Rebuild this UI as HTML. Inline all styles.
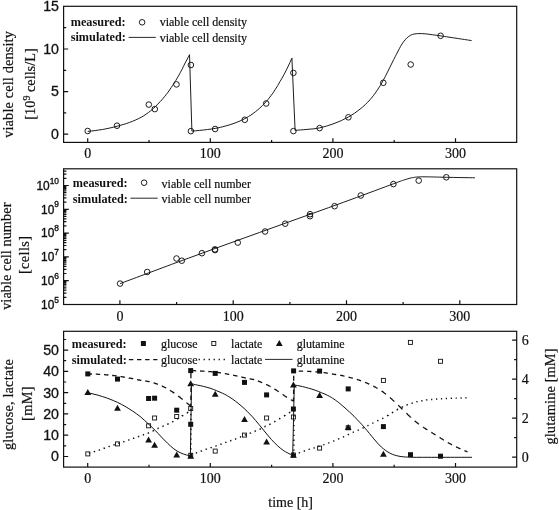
<!DOCTYPE html>
<html><head><meta charset="utf-8"><title>Cell culture: measured vs simulated</title>
<style>html,body{margin:0;padding:0;background:#fff}svg{display:block}</style></head>
<body>
<svg width="559" height="510" viewBox="0 0 559 510">
<rect width="559" height="510" fill="#fff"/>
<g fill="none" stroke="#111" stroke-width="1.1">
<rect x="63.6" y="6.3" width="453.1" height="136.1" stroke-width="1.2"/>
<rect x="63.6" y="168.8" width="453.1" height="135.7" stroke-width="1.2"/>
<rect x="63.6" y="331.3" width="453.1" height="135.8" stroke-width="1.2"/>
<path d="M87.7,142.4v-4.2M210.3,142.4v-4.2M332.9,142.4v-4.2M455.5,142.4v-4.2M149.0,142.4v-2.4M271.6,142.4v-2.4M394.2,142.4v-2.4M119.9,304.5v-4.2M233.2,304.5v-4.2M346.5,304.5v-4.2M459.8,304.5v-4.2M176.6,304.5v-2.4M289.9,304.5v-2.4M403.1,304.5v-2.4M87.7,467.1v-4.2M210.3,467.1v-4.2M332.9,467.1v-4.2M455.5,467.1v-4.2M149.0,467.1v-2.4M271.6,467.1v-2.4M394.2,467.1v-2.4M63.6,134.2h4.6M63.6,91.6h4.6M63.6,49.0h4.6M63.6,112.9h2.6M63.6,70.3h2.6M63.6,27.7h2.6M63.6,297.3h2.8M63.6,293.1h2.8M63.6,290.2h2.8M63.6,287.9h2.8M63.6,286.0h2.8M63.6,284.4h2.8M63.6,283.0h2.8M63.6,281.8h2.8M63.6,280.7h5.2M63.6,273.5h2.8M63.6,269.3h2.8M63.6,266.4h2.8M63.6,264.1h2.8M63.6,262.2h2.8M63.6,260.6h2.8M63.6,259.2h2.8M63.6,258.0h2.8M63.6,256.9h5.2M63.6,249.7h2.8M63.6,245.5h2.8M63.6,242.6h2.8M63.6,240.3h2.8M63.6,238.4h2.8M63.6,236.8h2.8M63.6,235.4h2.8M63.6,234.2h2.8M63.6,233.1h5.2M63.6,225.9h2.8M63.6,221.7h2.8M63.6,218.8h2.8M63.6,216.5h2.8M63.6,214.6h2.8M63.6,213.0h2.8M63.6,211.6h2.8M63.6,210.4h2.8M63.6,209.3h5.2M63.6,202.1h2.8M63.6,197.9h2.8M63.6,195.0h2.8M63.6,192.7h2.8M63.6,190.8h2.8M63.6,189.2h2.8M63.6,187.8h2.8M63.6,186.6h2.8M63.6,185.5h5.2M63.6,178.3h2.8M63.6,174.1h2.8M63.6,171.2h2.8M63.6,456.5h4.6M63.6,435.2h4.6M63.6,413.9h4.6M63.6,392.7h4.6M63.6,371.4h4.6M63.6,350.1h4.6M63.6,445.9h2.6M63.6,424.6h2.6M63.6,403.3h2.6M63.6,382.0h2.6M63.6,360.7h2.6M63.6,339.5h2.6M516.7,457.2h-4.6M516.7,418.2h-4.6M516.7,379.2h-4.6M516.7,340.2h-4.6M516.7,437.7h-2.6M516.7,398.7h-2.6M516.7,359.7h-2.6" stroke-width="1.2"/>
<path d="M87.7,131.4 L91.4,131.0 L95.1,130.6 L98.8,130.0 L102.5,129.5 L106.1,128.8 L109.8,128.0 L113.5,127.2 L117.2,126.2 L120.2,125.4 L123.2,124.5 L126.3,123.6 L129.3,122.5 L132.3,121.4 L135.3,120.1 L138.4,118.7 L141.4,117.2 L143.8,115.8 L146.1,114.2 L148.4,112.5 L150.8,110.7 L153.2,108.7 L155.5,106.5 L157.8,104.1 L160.2,101.6 L161.8,99.9 L163.3,98.1 L164.9,96.2 L166.4,94.3 L168.0,92.2 L169.6,90.0 L171.1,87.7 L172.7,85.3 L174.2,82.9 L175.8,80.5 L177.3,77.9 L178.9,75.2 L180.4,72.4 L182.0,69.4 L183.5,66.3 L185.1,63.0 L185.7,62.0 L186.2,61.0 L186.8,60.0 L187.3,59.0 L187.8,57.9 L188.4,56.9 L188.9,55.8 L189.5,54.7 L191.9,131.1 L195.8,130.8 L199.7,130.4 L203.6,130.0 L207.5,129.5 L211.4,129.0 L215.3,128.4 L220.2,127.4 L225.2,126.1 L230.1,124.7 L235.0,123.0 L240.0,121.0 L244.9,118.6 L248.4,116.6 L252.0,114.3 L255.6,111.6 L259.1,108.7 L262.6,105.4 L266.2,101.6 L268.5,98.9 L270.8,95.9 L273.1,92.8 L275.4,89.3 L277.7,85.6 L280.0,81.5 L282.0,78.2 L284.0,74.6 L285.9,70.9 L287.9,66.9 L289.9,62.6 L291.9,58.1 L295.1,130.4 C297.1,130.2 302.9,129.8 307.0,129.4 C311.1,129.0 315.0,128.9 319.5,127.9 C324.0,126.9 329.2,125.4 334.0,123.6 C338.8,121.8 344.0,119.5 348.3,117.1 C352.6,114.7 356.4,112.1 360.0,109.2 C363.6,106.3 367.2,102.9 370.0,99.8 C372.8,96.7 374.8,93.8 377.0,90.6 C379.2,87.4 381.4,83.7 383.1,80.6 C384.9,77.5 385.9,75.2 387.5,72.1 C389.1,69.0 390.8,65.3 392.5,62.0 C394.2,58.6 396.1,54.8 397.6,52.0 C399.1,49.2 400.1,47.1 401.3,45.1 C402.6,43.1 403.8,41.3 405.1,39.8 C406.4,38.3 407.6,37.2 408.9,36.3 C410.1,35.4 411.2,34.8 412.6,34.4 C414.1,34.0 415.5,33.7 417.6,33.6 C419.7,33.5 422.7,33.6 425.2,33.8 C427.7,34.0 430.2,34.5 432.7,34.8 C435.2,35.1 437.3,35.4 440.2,35.8 C443.1,36.2 444.8,36.5 450.0,37.3 C455.2,38.1 468.0,40.0 471.6,40.6" stroke-width="0.95" stroke-linejoin="miter"/>
<path d="M120.1,283.6 C129.2,280.2 156.7,269.9 175.0,263.1 C193.3,256.4 210.8,250.0 230.0,243.1 C249.2,236.2 270.0,228.7 290.0,221.5 C310.0,214.3 332.8,206.2 350.0,199.9 C367.2,193.6 384.2,187.2 393.4,183.8 C402.6,180.4 402.0,180.6 405.2,179.6 C408.4,178.6 409.8,178.1 412.7,177.6 C415.6,177.1 417.2,176.9 422.8,176.8 C428.4,176.8 437.6,177.1 446.3,177.3 C455.0,177.5 470.1,177.7 474.9,177.8" stroke-width="0.95"/>
<path d="M87.8,373.9 L88.1,373.9 L88.4,373.9 L88.8,373.9 L89.3,374.0 L89.7,374.0 L90.2,374.0 L90.8,374.0 L91.3,374.0 L91.9,374.0 L91.9,374.0M95.8,374.2 L96.3,374.2 L96.9,374.2 L97.5,374.2 L98.1,374.3 L98.7,374.3 L99.2,374.3 L99.7,374.3 L100.2,374.4M104.0,374.6 L104.1,374.6 L104.5,374.7 L104.8,374.7 L105.1,374.7 L105.4,374.8 L105.7,374.8 L106.0,374.8 L106.3,374.8 L106.7,374.9 L107.0,374.9 L107.3,374.9 L107.6,375.0 L107.9,375.0 L108.2,375.0 L108.4,375.1M112.2,375.4 L112.3,375.4 L112.6,375.5 L113.0,375.5 L113.3,375.5 L113.6,375.6 L114.0,375.6 L114.3,375.7 L114.6,375.7 L115.0,375.7 L115.3,375.8 L115.6,375.8 L116.0,375.9 L116.3,375.9 L116.7,376.0M120.5,376.5 L120.8,376.6 L121.1,376.6 L121.4,376.7 L121.8,376.7 L122.1,376.8 L122.5,376.8 L122.8,376.9 L123.2,377.0 L123.5,377.0 L123.8,377.1 L124.2,377.1 L124.5,377.2 L124.9,377.2 L124.9,377.2M128.8,377.9 L128.9,378.0 L129.2,378.0 L129.6,378.1 L129.9,378.2 L130.3,378.2 L130.6,378.3 L130.9,378.3 L131.3,378.4 L131.6,378.5 L131.9,378.5 L132.3,378.6 L132.6,378.7 L133.0,378.7 L133.2,378.8M137.0,379.6 L137.0,379.6 L137.4,379.7 L137.7,379.7 L138.1,379.8 L138.4,379.9 L138.7,380.0 L139.1,380.0 L139.4,380.1 L139.8,380.2 L140.1,380.2 L140.5,380.3 L140.8,380.4 L141.2,380.4 L141.4,380.5M145.2,381.0 L145.4,381.0 L145.8,381.1 L146.1,381.1 L146.5,381.2 L146.8,381.2 L147.2,381.3 L147.5,381.3 L147.9,381.4 L148.2,381.4 L148.6,381.5 L148.9,381.6 L149.3,381.6 L149.7,381.7M153.5,382.8 L153.8,382.9 L154.1,383.0 L154.5,383.1 L154.8,383.2 L155.1,383.4 L155.5,383.5 L155.8,383.6 L156.2,383.7 L156.5,383.8 L156.8,384.0 L157.2,384.1 L157.5,384.2 L157.9,384.4 L157.9,384.4M161.8,386.0 L162.0,386.0 L162.3,386.2 L162.6,386.4 L163.0,386.5 L163.3,386.7 L163.7,386.8 L164.0,387.0 L164.4,387.2 L164.7,387.3 L165.0,387.5 L165.4,387.7 L165.7,387.8 L166.1,388.0 L166.2,388.1M170.0,390.3 L170.1,390.4 L170.4,390.6 L170.8,390.8 L171.1,391.0 L171.5,391.2 L171.8,391.5 L172.1,391.7 L172.5,391.9 L172.8,392.1 L173.1,392.4 L173.5,392.6 L173.8,392.8 L174.2,393.1 L174.4,393.2M178.2,396.0 L178.3,396.1 L178.7,396.4 L179.0,396.6 L179.4,396.9 L179.7,397.2 L180.1,397.4 L180.4,397.7 L180.7,398.0 L181.1,398.2 L181.4,398.5 L181.7,398.7 L182.1,399.0 L182.4,399.3 L182.7,399.5M186.5,402.6 L186.6,402.7 L186.9,402.9 L187.2,403.2 L187.5,403.4 L187.8,403.7 L188.1,403.9 L188.3,404.1 L188.6,404.3 L188.8,404.5 L189.0,404.7 L189.2,404.9 L189.4,405.1 L189.6,405.2 L189.7,405.3 L189.9,405.4 L190.0,405.5 L190.1,405.6 L190.2,405.7 L190.2,405.8 L190.3,405.8 L190.3,406.0 L190.3,406.0 L190.3,406.0 L190.3,406.0 L190.3,405.8M191.8,370.6 L192.1,370.6 L192.4,370.7 L192.7,370.7 L193.1,370.7 L193.4,370.7 L193.8,370.7 L194.2,370.7 L194.6,370.7 L195.1,370.8 L195.5,370.8 L195.9,370.8 L196.2,370.8M200.1,371.0 L200.6,371.0 L201.1,371.1 L201.6,371.1 L202.1,371.1 L202.7,371.1 L203.2,371.2 L203.8,371.2 L204.3,371.3 L204.5,371.3M208.3,371.5 L208.4,371.5 L209.0,371.6 L209.6,371.6 L210.1,371.6 L210.7,371.7 L211.2,371.7 L211.7,371.8 L212.2,371.8 L212.7,371.9 L212.8,371.9M216.6,372.3 L216.8,372.3 L217.2,372.4 L217.6,372.4 L217.9,372.5 L218.3,372.5 L218.6,372.6 L218.9,372.6 L219.3,372.7 L219.6,372.7 L219.9,372.8 L220.3,372.8 L220.6,372.9 L221.0,372.9 L221.0,372.9M224.8,373.6 L225.1,373.6 L225.5,373.7 L225.8,373.8 L226.1,373.8 L226.5,373.9 L226.8,373.9 L227.2,374.0 L227.5,374.1 L227.8,374.1 L228.2,374.2 L228.5,374.3 L228.8,374.3 L229.2,374.4 L229.2,374.4M233.1,375.2 L233.2,375.2 L233.6,375.3 L233.9,375.4 L234.2,375.4 L234.6,375.5 L234.9,375.6 L235.3,375.6 L235.6,375.7 L235.9,375.8 L236.3,375.9 L236.6,375.9 L236.9,376.0 L237.3,376.1 L237.5,376.1M241.3,377.0 L241.4,377.0 L241.7,377.1 L242.1,377.2 L242.4,377.3 L242.7,377.3 L243.1,377.4 L243.4,377.5 L243.8,377.6 L244.1,377.7 L244.5,377.7 L244.8,377.8 L245.1,377.9 L245.5,378.0 L245.8,378.0M249.6,378.8 L249.9,378.8 L250.2,378.9 L250.5,378.9 L250.9,379.0 L251.2,379.1 L251.5,379.1 L251.9,379.2 L252.2,379.3 L252.5,379.3 L252.9,379.4 L253.2,379.5 L253.5,379.5 L253.9,379.6 L254.0,379.7M257.9,380.9 L257.9,380.9 L258.2,381.1 L258.6,381.2 L258.9,381.3 L259.2,381.4 L259.5,381.5 L259.8,381.7 L260.1,381.8 L260.4,381.9 L260.7,382.1 L261.0,382.2 L261.4,382.3 L261.7,382.5 L262.0,382.6 L262.2,382.7M266.1,384.4 L266.3,384.5 L266.7,384.7 L267.0,384.8 L267.4,385.0 L267.7,385.2 L268.1,385.3 L268.4,385.5 L268.7,385.7 L269.1,385.9 L269.4,386.0 L269.8,386.2 L270.1,386.4 L270.4,386.6 L270.5,386.6M274.4,388.9 L274.5,389.0 L274.9,389.2 L275.2,389.4 L275.6,389.6 L275.9,389.9 L276.3,390.1 L276.6,390.3 L276.9,390.5 L277.3,390.7 L277.6,391.0 L278.0,391.2 L278.3,391.4 L278.6,391.6 L278.8,391.7M282.6,394.4 L282.8,394.5 L283.1,394.7 L283.5,395.0 L283.8,395.2 L284.1,395.5 L284.5,395.7 L284.8,395.9 L285.1,396.2 L285.4,396.4 L285.8,396.6 L286.1,396.8 L286.4,397.0 L286.7,397.2 L287.0,397.4M290.9,399.6 L291.0,399.7 L291.3,399.9 L291.6,400.0 L291.8,400.2 L292.1,400.3 L292.3,400.5 L292.6,400.6 L292.8,400.7 L293.0,400.8 L293.1,400.9 L293.3,401.0M293.8,370.9 L294.0,370.9 L294.3,370.9 L294.6,370.9 L294.8,370.9M298.8,371.0 L299.2,371.1 L299.7,371.1 L300.2,371.1 L300.7,371.1 L301.2,371.1 L301.6,371.1 L302.1,371.1 L302.5,371.2 L303.0,371.2 L303.1,371.2M307.1,371.3 L307.4,371.3 L307.8,371.3 L308.1,371.4 L308.5,371.4 L308.8,371.4 L309.2,371.4 L309.5,371.4 L309.9,371.4 L310.3,371.5 L310.6,371.5 L311.0,371.5 L311.4,371.5M315.4,371.8 L315.8,371.8 L316.3,371.9 L316.8,371.9 L317.3,371.9 L317.8,372.0 L318.3,372.0 L318.7,372.1 L319.2,372.1 L319.7,372.2M323.6,372.6 L323.9,372.6 L324.3,372.7 L324.7,372.7 L325.1,372.8 L325.5,372.8 L325.9,372.9 L326.3,372.9 L326.7,373.0 L327.0,373.1 L327.4,373.1 L327.8,373.2 L327.9,373.2M331.9,374.0 L332.0,374.0 L332.3,374.0 L332.7,374.1 L333.1,374.2 L333.4,374.2 L333.8,374.3 L334.1,374.3 L334.5,374.4 L334.9,374.4 L335.2,374.5 L335.6,374.5 L336.0,374.6 L336.2,374.6M340.2,375.2 L340.2,375.2 L340.6,375.3 L340.9,375.3 L341.3,375.4 L341.6,375.5 L342.0,375.5 L342.3,375.6 L342.7,375.7 L343.0,375.8 L343.4,375.8 L343.7,375.9 L344.1,376.0 L344.4,376.1 L344.5,376.1M348.5,377.1 L348.8,377.2 L349.2,377.3 L349.5,377.4 L349.8,377.5 L350.2,377.6 L350.5,377.7 L350.9,377.8 L351.2,377.8 L351.6,377.9 L351.9,378.0 L352.2,378.1 L352.6,378.2 L352.8,378.3M356.8,379.4 L357.0,379.5 L357.4,379.6 L357.7,379.7 L358.0,379.8 L358.4,379.9 L358.7,380.0 L359.0,380.1 L359.4,380.2 L359.7,380.4 L360.0,380.5 L360.4,380.6 L360.7,380.7 L361.0,380.8 L361.1,380.8M365.0,382.3 L365.4,382.5 L365.7,382.6 L366.0,382.7 L366.4,382.9 L366.7,383.0 L367.1,383.2 L367.4,383.3 L367.7,383.5 L368.1,383.6 L368.4,383.8 L368.8,383.9 L369.1,384.1 L369.3,384.2M373.3,386.1 L373.6,386.2 L373.9,386.4 L374.2,386.6 L374.6,386.8 L374.9,386.9 L375.3,387.1 L375.6,387.3 L375.9,387.5 L376.3,387.7 L376.6,387.9 L376.9,388.0 L377.3,388.2 L377.6,388.4 L377.6,388.4M381.6,390.9 L381.7,391.0 L382.0,391.2 L382.3,391.4 L382.7,391.7 L383.0,391.9 L383.4,392.2 L383.7,392.5 L384.1,392.7 L384.4,393.0 L384.8,393.3 L385.1,393.5 L385.5,393.8 L385.8,394.1 L385.9,394.1M389.9,397.5 L390.1,397.6 L390.4,397.9 L390.7,398.2 L391.1,398.5 L391.4,398.8 L391.8,399.1 L392.1,399.4 L392.5,399.7 L392.8,400.1 L393.1,400.4 L393.5,400.7 L393.8,401.0 L394.2,401.3 L394.2,401.4M398.2,405.2 L398.2,405.2 L398.5,405.5 L398.8,405.8 L399.2,406.1 L399.5,406.4 L399.8,406.8 L400.1,407.1 L400.5,407.4 L400.8,407.7 L401.1,408.0 L401.4,408.3 L401.7,408.6 L402.1,409.0 L402.4,409.3 L402.5,409.4M406.4,413.2 L406.5,413.3 L406.8,413.6 L407.2,413.9 L407.5,414.2 L407.8,414.5 L408.1,414.9 L408.4,415.2 L408.8,415.5 L409.1,415.8 L409.4,416.1 L409.7,416.4 L410.0,416.7 L410.4,417.0 L410.7,417.3 L410.7,417.4M414.7,420.9 L415.0,421.2 L415.4,421.4 L415.8,421.7 L416.1,422.0 L416.5,422.3 L416.9,422.6 L417.2,422.9 L417.6,423.1 L418.0,423.4 L418.3,423.7 L418.7,424.0 L419.0,424.2M423.0,427.0 L423.0,427.0 L423.4,427.3 L423.7,427.5 L424.1,427.7 L424.4,428.0 L424.8,428.2 L425.1,428.4 L425.4,428.6 L425.8,428.9 L426.1,429.1 L426.5,429.3 L426.8,429.5 L427.1,429.7 L427.3,429.8M431.3,432.3 L431.5,432.4 L431.8,432.6 L432.2,432.8 L432.5,433.1 L432.8,433.3 L433.2,433.5 L433.5,433.7 L433.8,433.9 L434.2,434.1 L434.5,434.3 L434.8,434.5 L435.2,434.7 L435.5,434.9 L435.6,435.0M439.6,437.4 L439.6,437.4 L439.9,437.6 L440.2,437.8 L440.6,438.1 L440.9,438.3 L441.3,438.5 L441.6,438.7 L441.9,438.9 L442.3,439.1 L442.6,439.3 L442.9,439.5 L443.3,439.7 L443.6,440.0 L443.9,440.1M447.8,442.5 L448.0,442.6 L448.4,442.8 L448.7,443.0 L449.1,443.2 L449.4,443.4 L449.8,443.5 L450.1,443.7 L450.4,443.9 L450.8,444.1 L451.1,444.3 L451.5,444.5 L451.8,444.7 L452.1,444.8M456.1,446.9 L456.2,446.9 L456.5,447.1 L456.9,447.2 L457.2,447.4 L457.5,447.5 L457.9,447.7 L458.2,447.8 L458.5,448.0 L458.8,448.2 L459.2,448.3 L459.5,448.5 L459.8,448.6 L460.1,448.7 L460.4,448.9M464.4,450.6 L464.4,450.6 L464.6,450.7 L464.9,450.8 L465.1,450.9 L465.3,451.0 L465.5,451.1 L465.7,451.1 L465.9,451.2 L466.1,451.3 L466.3,451.4 L466.5,451.4 L466.6,451.5 L466.8,451.6 L466.9,451.6 L467.1,451.7 L467.2,451.7 L467.3,451.8 L467.4,451.8M190.9,373V378.3M191,387.5V392M190.9,395.5V400M190.8,403.5V407M293.7,375.8V380.7M293.6,389.5V394M293.5,397.5V401.5" stroke-width="1.3"/>
<path d="M87.8,392.7 C89.0,393.0 92.5,393.8 95.0,394.4 C97.5,395.0 100.1,395.8 102.6,396.6 C105.1,397.4 107.5,398.2 110.0,399.2 C112.5,400.2 115.0,401.2 117.5,402.4 C120.0,403.6 122.5,404.8 125.0,406.3 C127.5,407.8 130.3,409.5 132.8,411.2 C135.3,412.9 137.3,414.2 140.0,416.4 C142.7,418.6 146.3,422.0 148.8,424.3 C151.3,426.6 153.0,428.2 155.1,430.3 C157.2,432.4 159.3,434.8 161.4,437.0 C163.5,439.2 165.5,441.3 167.6,443.3 C169.7,445.3 171.8,447.3 173.9,448.9 C176.0,450.5 178.1,451.7 180.2,452.7 C182.3,453.7 184.8,454.5 186.5,455.0 C188.2,455.5 189.8,455.7 190.4,455.8 L191.5,383.8 C192.5,384.0 194.4,384.4 197.5,385.1 C200.6,385.8 205.9,386.8 210.1,388.2 C214.3,389.6 219.5,391.9 222.6,393.3 C225.7,394.7 226.8,395.4 228.9,396.7 C231.0,398.0 233.2,399.5 235.2,401.0 C237.2,402.5 239.0,404.0 241.0,405.7 C243.0,407.4 245.1,409.3 247.0,411.2 C248.9,413.1 250.5,414.7 252.5,416.9 C254.5,419.1 256.7,421.8 258.8,424.3 C260.9,426.8 263.0,429.5 265.1,432.0 C267.2,434.5 269.3,437.2 271.4,439.5 C273.5,441.8 275.5,443.9 277.6,445.8 C279.7,447.7 281.8,449.4 283.9,450.8 C286.0,452.2 288.7,453.5 290.2,454.2 C291.7,454.9 292.3,455.0 292.7,455.2 L294.3,385.0 C295.7,385.3 299.0,385.7 302.5,386.6 C306.0,387.5 310.9,388.7 315.1,390.2 C319.3,391.7 324.5,393.9 327.6,395.4 C330.8,396.9 331.9,397.8 334.0,399.2 C336.1,400.6 337.2,401.3 340.2,403.8 C343.2,406.3 348.9,411.4 352.0,414.3 C355.1,417.2 356.3,418.7 358.5,421.0 C360.7,423.3 362.5,425.2 365.1,428.2 C367.7,431.2 371.2,435.8 373.9,438.9 C376.6,442.0 378.7,444.7 381.4,447.1 C384.1,449.5 387.3,451.8 390.2,453.3 C393.1,454.8 396.1,455.6 399.0,456.2 C401.9,456.8 404.3,456.9 407.8,457.1 C411.3,457.3 409.3,457.3 420.0,457.3 C430.7,457.3 463.3,457.3 472.0,457.3" stroke-width="1.0"/>
<path d="M88.9,453.3 L89.0,453.2 L89.4,453.1 L89.8,453.0 L90.2,452.9M93.8,451.8 L94.2,451.6 L94.8,451.5 L95.1,451.4M98.7,450.2 L98.8,450.2 L99.2,450.1 L99.7,449.9 L100.0,449.8M103.6,448.5 L104.0,448.3 L104.5,448.2 L104.9,448.0M108.5,446.7 L108.7,446.6 L109.1,446.5 L109.5,446.4 L109.8,446.3M113.4,445.1 L113.6,445.0 L114.1,444.9 L114.5,444.7 L114.7,444.7M118.3,443.5 L118.5,443.4 L118.9,443.3 L119.3,443.2 L119.6,443.1M123.2,441.9 L123.2,441.9 L123.6,441.7 L124.0,441.6 L124.4,441.5 L124.5,441.4M128.1,440.2 L128.3,440.1 L128.7,440.0 L129.1,439.8 L129.4,439.7M133.0,438.5 L133.3,438.4 L133.7,438.2 L134.1,438.1 L134.3,438.0M137.9,436.7 L138.3,436.6 L138.7,436.5 L139.1,436.3 L139.2,436.3M142.8,435.0 L142.8,435.0 L143.2,434.9 L143.6,434.7 L144.0,434.6 L144.1,434.6M147.7,433.2 L147.8,433.2 L148.1,433.1 L148.5,432.9 L148.8,432.8 L149.0,432.7M152.6,431.1 L152.7,431.1 L153.0,430.9 L153.3,430.8 L153.6,430.7 L153.8,430.5 L153.9,430.5M157.5,428.8 L157.7,428.7 L158.0,428.5 L158.3,428.4 L158.6,428.2 L158.8,428.2M162.4,426.4 L162.5,426.4 L162.7,426.3 L163.0,426.2 L163.2,426.1 L163.4,426.0 L163.6,425.9 L163.7,425.9M167.3,424.4 L167.4,424.3 L167.6,424.2 L167.8,424.2 L167.9,424.1 L168.1,424.0 L168.3,423.9 L168.5,423.8 L168.6,423.8M172.2,422.0 L172.2,422.0 L172.4,421.9 L172.6,421.7 L172.8,421.6 L173.1,421.5 L173.3,421.4 L173.5,421.3M177.1,419.1 L177.1,419.1 L177.3,419.0 L177.5,418.9 L177.7,418.7 L177.9,418.6 L178.1,418.5 L178.3,418.3 L178.4,418.3M182.0,416.1 L182.0,416.0 L182.2,415.9 L182.5,415.8 L182.7,415.7 L182.9,415.6 L183.1,415.5 L183.3,415.4M186.9,413.2 L187.1,413.0 L187.3,412.9 L187.5,412.7 L187.7,412.5 L187.9,412.3 L188.1,412.1 L188.2,412.1M190.9,454.9 L190.9,454.9 L191.1,454.8 L191.2,454.7 L191.4,454.7 L191.6,454.6 L191.8,454.5 L192.0,454.5 L192.2,454.4M195.8,453.1 L195.9,453.1 L196.3,452.9 L196.6,452.8 L196.9,452.7 L197.1,452.6M200.7,451.3 L200.9,451.2 L201.3,451.0 L201.8,450.9 L202.0,450.8M205.6,449.4 L205.9,449.3 L206.3,449.2 L206.7,449.1 L206.9,449.0M210.5,447.8 L210.9,447.6 L211.4,447.5 L211.8,447.4M215.4,446.1 L215.6,446.1 L216.0,445.9 L216.4,445.8 L216.7,445.7M220.3,444.4 L220.3,444.4 L220.7,444.2 L221.1,444.1 L221.5,444.0 L221.6,443.9M225.2,442.6 L225.4,442.5 L225.8,442.4 L226.2,442.3 L226.5,442.2M230.1,440.9 L230.4,440.8 L230.8,440.7 L231.2,440.5 L231.4,440.5M235.0,439.2 L235.4,439.1 L235.8,438.9 L236.2,438.7 L236.3,438.7M239.9,437.2 L240.2,437.1 L240.6,436.9 L241.0,436.7 L241.2,436.7M244.8,435.1 L245.1,435.0 L245.4,434.9 L245.6,434.8 L245.9,434.7 L246.1,434.6M249.7,433.3 L249.8,433.3 L250.0,433.2 L250.2,433.1 L250.4,433.0 L250.6,433.0 L250.9,432.9 L251.0,432.8M254.6,431.4 L254.7,431.4 L254.9,431.3 L255.1,431.2 L255.3,431.1 L255.5,431.0 L255.7,430.9 L255.9,430.9M259.5,429.4 L259.5,429.4 L259.7,429.3 L259.9,429.2 L260.1,429.1 L260.3,429.0 L260.5,428.9 L260.7,428.8 L260.8,428.8M264.4,426.8 L264.5,426.8 L264.7,426.7 L264.9,426.6 L265.1,426.5 L265.3,426.4 L265.5,426.3 L265.7,426.3M269.3,424.6 L269.3,424.6 L269.5,424.5 L269.7,424.4 L269.9,424.3 L270.1,424.2 L270.3,424.1 L270.4,424.0 L270.6,423.9M274.2,421.8 L274.3,421.8 L274.5,421.7 L274.7,421.5 L274.9,421.4 L275.1,421.3 L275.3,421.2 L275.4,421.1M279.1,419.0 L279.1,419.0 L279.3,418.9 L279.5,418.7 L279.7,418.6 L279.9,418.5 L280.1,418.4 L280.3,418.2M284.0,416.0 L284.1,416.0 L284.3,415.8 L284.5,415.7 L284.7,415.6 L285.0,415.4 L285.2,415.3 L285.2,415.2M288.9,412.9 L288.9,412.9 L289.1,412.8 L289.3,412.6 L289.5,412.5 L289.7,412.4 L289.9,412.3 L290.1,412.1M293.9,454.9 L294.0,454.8 L294.1,454.8 L294.2,454.7 L294.3,454.7 L294.5,454.6 L294.6,454.6 L294.8,454.5 L294.9,454.4 L295.1,454.4 L295.1,454.3M298.8,452.9 L298.9,452.9 L299.1,452.8 L299.3,452.7 L299.5,452.6 L299.7,452.6 L299.9,452.5 L300.0,452.4M303.7,451.2 L303.8,451.1 L304.0,451.1 L304.1,451.0 L304.3,450.9 L304.5,450.9 L304.6,450.8 L304.8,450.8 L304.9,450.7M308.6,449.6 L309.0,449.4 L309.4,449.3 L309.8,449.2 L309.8,449.2M313.5,448.1 L313.9,448.0 L314.4,447.8 L314.7,447.7M318.4,446.6 L318.6,446.5 L319.1,446.4 L319.6,446.2 L319.6,446.2M323.3,444.9 L323.6,444.8 L324.1,444.6 L324.5,444.5 L324.5,444.5M328.2,443.1 L328.3,443.1 L328.7,442.9 L329.2,442.7 L329.4,442.6M333.1,441.2 L333.3,441.1 L333.7,441.0 L334.1,440.8 L334.3,440.7M338.0,439.2 L338.2,439.1 L338.6,438.9 L339.1,438.7 L339.2,438.6M342.9,437.0 L342.9,437.0 L343.5,436.8 L344.0,436.5 L344.1,436.4M347.8,434.8 L348.2,434.6 L348.8,434.3 L349.0,434.2M352.7,432.5 L353.0,432.4 L353.5,432.1 L353.9,432.0M357.6,430.4 L357.7,430.3 L358.3,430.1 L358.8,429.8 L358.8,429.8M362.5,428.2 L363.0,428.0 L363.5,427.7 L363.7,427.6M367.4,425.9 L367.8,425.7 L368.4,425.4 L368.6,425.3M372.3,423.4 L372.8,423.1 L373.3,422.9 L373.5,422.8M377.2,420.9 L377.6,420.7 L378.0,420.5 L378.4,420.3 L378.4,420.3M382.1,418.6 L382.2,418.6 L382.5,418.4 L382.7,418.3 L383.0,418.2 L383.2,418.1 L383.3,418.0M387.0,415.9 L387.0,415.9 L387.2,415.8 L387.4,415.7 L387.6,415.6 L387.8,415.4 L388.0,415.3 L388.2,415.2 L388.2,415.1M391.9,412.9 L391.9,412.9 L392.1,412.8 L392.3,412.6 L392.5,412.5 L392.7,412.4 L392.9,412.3 L393.1,412.1M396.8,409.9 L396.9,409.9 L397.1,409.7 L397.3,409.6 L397.5,409.5 L397.7,409.4 L397.9,409.2 L398.0,409.2M401.7,407.2 L401.8,407.2 L402.0,407.1 L402.2,407.0 L402.4,406.9 L402.6,406.8 L402.8,406.7 L402.9,406.6M406.6,405.0 L406.8,405.0 L406.9,404.9 L407.1,404.8 L407.3,404.8 L407.5,404.7 L407.6,404.6 L407.8,404.6 L407.8,404.6M411.5,403.3 L411.5,403.3 L411.7,403.3 L411.9,403.2 L412.1,403.1 L412.3,403.1 L412.4,403.0 L412.6,403.0 L412.7,402.9M416.4,401.9 L416.6,401.8 L416.8,401.8 L417.0,401.7 L417.2,401.7 L417.4,401.6 L417.6,401.6M421.3,400.8 L421.4,400.8 L421.6,400.8 L421.8,400.7 L422.1,400.7 L422.3,400.7 L422.5,400.6 L422.5,400.6M426.2,400.1 L426.3,400.0 L426.5,400.0 L426.7,400.0 L427.0,400.0 L427.2,399.9 L427.4,399.9M431.1,399.5 L431.5,399.5 L431.9,399.4 L432.3,399.4 L432.3,399.4M436.0,399.0 L436.0,399.0 L436.5,399.0 L436.9,399.0 L437.2,398.9M440.9,398.7 L441.0,398.7 L441.4,398.7 L441.7,398.7 L442.1,398.6 L442.1,398.6M445.8,398.5 L446.1,398.5 L446.6,398.4 L447.0,398.4M450.7,398.3 L450.8,398.3 L451.7,398.3 L451.9,398.2M455.6,398.1 L456.4,398.1 L456.8,398.1M460.5,397.9 L461.3,397.9 L461.7,397.9M465.4,397.8 L465.5,397.8 L466.2,397.8 L466.6,397.7M190.9,409.0v1.3M190.9,413.9v1.3M190.9,418.8v1.3M190.9,423.7v1.3M190.9,428.6v1.3M190.9,433.5v1.3M190.9,438.4v1.3M190.9,443.3v1.3M190.9,448.2v1.3M190.9,453.1v1.3M293.9,410.2v1.3M293.9,415.1v1.3M293.9,420.0v1.3M293.9,424.9v1.3M293.9,429.8v1.3M293.9,434.7v1.3M293.9,439.6v1.3M293.9,444.5v1.3M293.9,449.4v1.3M293.9,454.3v1.3" stroke-width="1.45"/>
<path d="M128.6,37.4H155.8M130.4,198.2H157.7M265,359.4H292.5" stroke-width="0.9"/>
<path d="M128.9,359.6H157.4" stroke-width="1.3" stroke-dasharray="4.4 3.7"/>
<path d="M198.6,359.4H226.5" stroke-width="1.5" stroke-dasharray="1.3 3.7"/>
<g stroke-width="0.95">
<circle cx="87.7" cy="131.0" r="2.8"/>
<circle cx="117.0" cy="125.7" r="2.8"/>
<circle cx="148.8" cy="104.6" r="2.8"/>
<circle cx="154.8" cy="109.1" r="2.8"/>
<circle cx="176.5" cy="84.4" r="2.8"/>
<circle cx="190.9" cy="65.0" r="2.8"/>
<circle cx="190.9" cy="131.1" r="2.8"/>
<circle cx="215.1" cy="129.0" r="2.8"/>
<circle cx="244.8" cy="119.8" r="2.8"/>
<circle cx="266.2" cy="103.5" r="2.8"/>
<circle cx="293.4" cy="72.9" r="2.8"/>
<circle cx="293.4" cy="131.1" r="2.8"/>
<circle cx="319.6" cy="128.1" r="2.8"/>
<circle cx="348.4" cy="117.3" r="2.8"/>
<circle cx="383.3" cy="82.8" r="2.8"/>
<circle cx="410.7" cy="64.5" r="2.8"/>
<circle cx="440.6" cy="35.8" r="2.8"/>
<circle cx="120.1" cy="283.6" r="2.8"/>
<circle cx="147.2" cy="272.0" r="2.8"/>
<circle cx="176.5" cy="258.5" r="2.8"/>
<circle cx="181.8" cy="260.7" r="2.8"/>
<circle cx="201.9" cy="253.2" r="2.8"/>
<circle cx="214.9" cy="249.4" r="2.8"/>
<circle cx="215.0" cy="250.1" r="2.8"/>
<circle cx="237.8" cy="242.6" r="2.8"/>
<circle cx="265.1" cy="231.5" r="2.8"/>
<circle cx="285.2" cy="223.7" r="2.8"/>
<circle cx="310.0" cy="214.2" r="2.8"/>
<circle cx="310.0" cy="216.2" r="2.8"/>
<circle cx="334.6" cy="206.2" r="2.8"/>
<circle cx="360.8" cy="195.5" r="2.8"/>
<circle cx="393.4" cy="184.1" r="2.8"/>
<circle cx="418.7" cy="180.6" r="2.8"/>
<circle cx="446.3" cy="177.3" r="2.8"/>
<circle cx="142.1" cy="22.3" r="2.8"/>
<circle cx="144.1" cy="182.7" r="2.8"/>
</g>
<rect x="85.8" y="451.9" width="4.0" height="4.0" stroke-width="0.9"/>
<rect x="115.5" y="441.9" width="4.0" height="4.0" stroke-width="0.9"/>
<rect x="146.6" y="423.8" width="4.0" height="4.0" stroke-width="0.9"/>
<rect x="152.6" y="416.0" width="4.0" height="4.0" stroke-width="0.9"/>
<rect x="174.7" y="414.5" width="4.0" height="4.0" stroke-width="0.9"/>
<rect x="188.7" y="406.5" width="4.0" height="4.0" stroke-width="0.9"/>
<rect x="188.7" y="453.3" width="4.0" height="4.0" stroke-width="0.9"/>
<rect x="213.2" y="449.1" width="4.0" height="4.0" stroke-width="0.9"/>
<rect x="242.5" y="433.1" width="4.0" height="4.0" stroke-width="0.9"/>
<rect x="264.6" y="416.0" width="4.0" height="4.0" stroke-width="0.9"/>
<rect x="291.4" y="415.0" width="4.0" height="4.0" stroke-width="0.9"/>
<rect x="291.4" y="453.0" width="4.0" height="4.0" stroke-width="0.9"/>
<rect x="317.6" y="446.1" width="4.0" height="4.0" stroke-width="0.9"/>
<rect x="346.2" y="425.8" width="4.0" height="4.0" stroke-width="0.9"/>
<rect x="381.4" y="378.4" width="4.0" height="4.0" stroke-width="0.9"/>
<rect x="408.4" y="340.4" width="4.0" height="4.0" stroke-width="0.9"/>
<rect x="438.5" y="359.3" width="4.0" height="4.0" stroke-width="0.9"/>
<rect x="211.8" y="341.5" width="4.0" height="4.0" stroke-width="0.9"/>
</g>
<g fill="#111" stroke="none">
<rect x="85.3" y="371.4" width="5" height="5"/>
<rect x="115.0" y="376.6" width="5" height="5"/>
<rect x="146.1" y="396.0" width="5" height="5"/>
<rect x="152.1" y="395.7" width="5" height="5"/>
<rect x="174.2" y="407.7" width="5" height="5"/>
<rect x="188.2" y="421.8" width="5" height="5"/>
<rect x="188.2" y="368.1" width="5" height="5"/>
<rect x="212.7" y="370.9" width="5" height="5"/>
<rect x="242.0" y="379.9" width="5" height="5"/>
<rect x="264.1" y="392.4" width="5" height="5"/>
<rect x="290.9" y="406.5" width="5" height="5"/>
<rect x="291.1" y="368.4" width="5" height="5"/>
<rect x="317.1" y="368.6" width="5" height="5"/>
<rect x="345.7" y="386.4" width="5" height="5"/>
<rect x="380.9" y="424.1" width="5" height="5"/>
<rect x="408.0" y="452.2" width="5" height="5"/>
<rect x="438.0" y="453.7" width="5" height="5"/>
<rect x="140.9" y="341.0" width="5" height="5"/>
<path d="M87.8,389.0l3.4,6h-6.8z"/>
<path d="M117.5,404.8l3.4,6h-6.8z"/>
<path d="M148.6,436.4l3.4,6h-6.8z"/>
<path d="M154.6,441.7l3.4,6h-6.8z"/>
<path d="M176.7,451.5l3.4,6h-6.8z"/>
<path d="M190.7,452.7l3.4,6h-6.8z"/>
<path d="M190.7,380.2l3.4,6h-6.8z"/>
<path d="M215.2,390.7l3.4,6h-6.8z"/>
<path d="M244.5,416.1l3.4,6h-6.8z"/>
<path d="M266.6,438.4l3.4,6h-6.8z"/>
<path d="M293.4,451.7l3.4,6h-6.8z"/>
<path d="M293.4,381.6l3.4,6h-6.8z"/>
<path d="M319.6,392.0l3.4,6h-6.8z"/>
<path d="M348.2,424.1l3.4,6h-6.8z"/>
<path d="M383.4,450.8l3.4,6h-6.8z"/>
<path d="M279.3,340.0l3.4,6h-6.8z"/>
<text x="59" y="138.8" font-family='"Liberation Sans",Arial,sans-serif' font-size="14.2" text-anchor="end" font-weight="normal" stroke="#111" stroke-width="0.3">0</text>
<text x="59" y="96.2" font-family='"Liberation Sans",Arial,sans-serif' font-size="14.2" text-anchor="end" font-weight="normal" stroke="#111" stroke-width="0.3">5</text>
<text x="59" y="53.6" font-family='"Liberation Sans",Arial,sans-serif' font-size="14.2" text-anchor="end" font-weight="normal" stroke="#111" stroke-width="0.3">10</text>
<text x="59" y="11.0" font-family='"Liberation Sans",Arial,sans-serif' font-size="14.2" text-anchor="end" font-weight="normal" stroke="#111" stroke-width="0.3">15</text>
<text x="59" y="461.3" font-family='"Liberation Sans",Arial,sans-serif' font-size="14.2" text-anchor="end" font-weight="normal" stroke="#111" stroke-width="0.3">0</text>
<text x="59" y="440.0" font-family='"Liberation Sans",Arial,sans-serif' font-size="14.2" text-anchor="end" font-weight="normal" stroke="#111" stroke-width="0.3">10</text>
<text x="59" y="418.7" font-family='"Liberation Sans",Arial,sans-serif' font-size="14.2" text-anchor="end" font-weight="normal" stroke="#111" stroke-width="0.3">20</text>
<text x="59" y="397.5" font-family='"Liberation Sans",Arial,sans-serif' font-size="14.2" text-anchor="end" font-weight="normal" stroke="#111" stroke-width="0.3">30</text>
<text x="59" y="376.2" font-family='"Liberation Sans",Arial,sans-serif' font-size="14.2" text-anchor="end" font-weight="normal" stroke="#111" stroke-width="0.3">40</text>
<text x="59" y="354.9" font-family='"Liberation Sans",Arial,sans-serif' font-size="14.2" text-anchor="end" font-weight="normal" stroke="#111" stroke-width="0.3">50</text>
<text x="59" y="308.8" font-family='"Liberation Sans",Arial,sans-serif' font-size="11.9" text-anchor="end" stroke="#111" stroke-width="0.35">10<tspan font-size="8.4" dy="-6.3">5</tspan></text>
<text x="59" y="285.0" font-family='"Liberation Sans",Arial,sans-serif' font-size="11.9" text-anchor="end" stroke="#111" stroke-width="0.35">10<tspan font-size="8.4" dy="-6.3">6</tspan></text>
<text x="59" y="261.2" font-family='"Liberation Sans",Arial,sans-serif' font-size="11.9" text-anchor="end" stroke="#111" stroke-width="0.35">10<tspan font-size="8.4" dy="-6.3">7</tspan></text>
<text x="59" y="237.4" font-family='"Liberation Sans",Arial,sans-serif' font-size="11.9" text-anchor="end" stroke="#111" stroke-width="0.35">10<tspan font-size="8.4" dy="-6.3">8</tspan></text>
<text x="59" y="213.6" font-family='"Liberation Sans",Arial,sans-serif' font-size="11.9" text-anchor="end" stroke="#111" stroke-width="0.35">10<tspan font-size="8.4" dy="-6.3">9</tspan></text>
<text x="59" y="189.8" font-family='"Liberation Sans",Arial,sans-serif' font-size="11.9" text-anchor="end" stroke="#111" stroke-width="0.35">10<tspan font-size="8.4" dy="-6.3">10</tspan></text>
<text x="521.8" y="462.1" font-family='"Liberation Serif","Times New Roman",serif' font-size="14" text-anchor="start" font-weight="normal" stroke="#111" stroke-width="0.2">0</text>
<text x="521.8" y="423.1" font-family='"Liberation Serif","Times New Roman",serif' font-size="14" text-anchor="start" font-weight="normal" stroke="#111" stroke-width="0.2">2</text>
<text x="521.8" y="384.1" font-family='"Liberation Serif","Times New Roman",serif' font-size="14" text-anchor="start" font-weight="normal" stroke="#111" stroke-width="0.2">4</text>
<text x="521.8" y="345.1" font-family='"Liberation Serif","Times New Roman",serif' font-size="14" text-anchor="start" font-weight="normal" stroke="#111" stroke-width="0.2">6</text>
<text x="87.7" y="158.2" font-family='"Liberation Serif","Times New Roman",serif' font-size="14" text-anchor="middle" font-weight="normal" stroke="#111" stroke-width="0.2">0</text>
<text x="119.9" y="320.8" font-family='"Liberation Serif","Times New Roman",serif' font-size="14" text-anchor="middle" font-weight="normal" stroke="#111" stroke-width="0.2">0</text>
<text x="87.7" y="483" font-family='"Liberation Serif","Times New Roman",serif' font-size="14" text-anchor="middle" font-weight="normal" stroke="#111" stroke-width="0.2">0</text>
<text x="210.3" y="158.2" font-family='"Liberation Serif","Times New Roman",serif' font-size="14" text-anchor="middle" font-weight="normal" stroke="#111" stroke-width="0.2">100</text>
<text x="233.2" y="320.8" font-family='"Liberation Serif","Times New Roman",serif' font-size="14" text-anchor="middle" font-weight="normal" stroke="#111" stroke-width="0.2">100</text>
<text x="210.3" y="483" font-family='"Liberation Serif","Times New Roman",serif' font-size="14" text-anchor="middle" font-weight="normal" stroke="#111" stroke-width="0.2">100</text>
<text x="332.9" y="158.2" font-family='"Liberation Serif","Times New Roman",serif' font-size="14" text-anchor="middle" font-weight="normal" stroke="#111" stroke-width="0.2">200</text>
<text x="346.5" y="320.8" font-family='"Liberation Serif","Times New Roman",serif' font-size="14" text-anchor="middle" font-weight="normal" stroke="#111" stroke-width="0.2">200</text>
<text x="332.9" y="483" font-family='"Liberation Serif","Times New Roman",serif' font-size="14" text-anchor="middle" font-weight="normal" stroke="#111" stroke-width="0.2">200</text>
<text x="455.5" y="158.2" font-family='"Liberation Serif","Times New Roman",serif' font-size="14" text-anchor="middle" font-weight="normal" stroke="#111" stroke-width="0.2">300</text>
<text x="459.8" y="320.8" font-family='"Liberation Serif","Times New Roman",serif' font-size="14" text-anchor="middle" font-weight="normal" stroke="#111" stroke-width="0.2">300</text>
<text x="455.5" y="483" font-family='"Liberation Serif","Times New Roman",serif' font-size="14" text-anchor="middle" font-weight="normal" stroke="#111" stroke-width="0.2">300</text>
<text x="268.3" y="506.5" font-family='"Liberation Serif","Times New Roman",serif' font-size="14" text-anchor="start" font-weight="normal" stroke="#111" stroke-width="0.2">time [h]</text>
<text transform="translate(12.6,84.4) rotate(-90)" font-family='"Liberation Serif","Times New Roman",serif' font-size="14.3" text-anchor="middle" letter-spacing="0.15" stroke="#111" stroke-width="0.2">viable cell density</text>
<text transform="translate(35.1,84) rotate(-90)" font-family='"Liberation Serif","Times New Roman",serif' font-size="14.3" text-anchor="middle" stroke="#111" stroke-width="0.2">[10<tspan font-size="10" dy="-5.2">9</tspan><tspan dy="5.2"> cells/L]</tspan></text>
<text transform="translate(10.7,256.2) rotate(-90)" font-family='"Liberation Serif","Times New Roman",serif' font-size="14.3" text-anchor="middle" letter-spacing="0.05" stroke="#111" stroke-width="0.2">viable cell number</text>
<text transform="translate(28.8,254.8) rotate(-90)" font-family='"Liberation Serif","Times New Roman",serif' font-size="14.3" text-anchor="middle" letter-spacing="0.4" stroke="#111" stroke-width="0.2">[cells]</text>
<text transform="translate(12.5,404.5) rotate(-90)" font-family='"Liberation Serif","Times New Roman",serif' font-size="14.3" text-anchor="middle" letter-spacing="0.18" stroke="#111" stroke-width="0.2">glucose, lactate</text>
<text transform="translate(31.9,403.5) rotate(-90)" font-family='"Liberation Serif","Times New Roman",serif' font-size="14.3" text-anchor="middle" letter-spacing="0.4" stroke="#111" stroke-width="0.2">[mM]</text>
<text transform="translate(555.1,396.5) rotate(-90)" font-family='"Liberation Serif","Times New Roman",serif' font-size="14.3" text-anchor="middle" letter-spacing="0.15" stroke="#111" stroke-width="0.2">glutamine [mM]</text>
<text x="70.7" y="25.9" font-family='"Liberation Serif","Times New Roman",serif' font-size="12.25" text-anchor="start" font-weight="bold" >measured:</text>
<text x="70.7" y="41.3" font-family='"Liberation Serif","Times New Roman",serif' font-size="12.25" text-anchor="start" font-weight="bold" >simulated:</text>
<text x="159.7" y="26.1" font-family='"Liberation Serif","Times New Roman",serif' font-size="12" text-anchor="start" font-weight="normal" stroke="#111" stroke-width="0.2">viable cell density</text>
<text x="159.7" y="41.5" font-family='"Liberation Serif","Times New Roman",serif' font-size="12" text-anchor="start" font-weight="normal" stroke="#111" stroke-width="0.2">viable cell density</text>
<text x="72.8" y="187.4" font-family='"Liberation Serif","Times New Roman",serif' font-size="12.25" text-anchor="start" font-weight="bold" >measured:</text>
<text x="72.8" y="202.8" font-family='"Liberation Serif","Times New Roman",serif' font-size="12.25" text-anchor="start" font-weight="bold" >simulated:</text>
<text x="161.6" y="187.6" font-family='"Liberation Serif","Times New Roman",serif' font-size="12" text-anchor="start" font-weight="normal" stroke="#111" stroke-width="0.2">viable cell number</text>
<text x="161.6" y="203.0" font-family='"Liberation Serif","Times New Roman",serif' font-size="12" text-anchor="start" font-weight="normal" stroke="#111" stroke-width="0.2">viable cell number</text>
<text x="71.8" y="348.1" font-family='"Liberation Serif","Times New Roman",serif' font-size="12.25" text-anchor="start" font-weight="bold" >measured:</text>
<text x="71.8" y="363.8" font-family='"Liberation Serif","Times New Roman",serif' font-size="12.25" text-anchor="start" font-weight="bold" >simulated:</text>
<text x="160.89999999999998" y="348.3" font-family='"Liberation Serif","Times New Roman",serif' font-size="12" text-anchor="start" font-weight="normal" stroke="#111" stroke-width="0.2">glucose</text>
<text x="160.89999999999998" y="364.0" font-family='"Liberation Serif","Times New Roman",serif' font-size="12" text-anchor="start" font-weight="normal" stroke="#111" stroke-width="0.2">glucose</text>
<text x="231.1" y="348.3" font-family='"Liberation Serif","Times New Roman",serif' font-size="12" text-anchor="start" font-weight="normal" stroke="#111" stroke-width="0.2">lactate</text>
<text x="231.1" y="364.0" font-family='"Liberation Serif","Times New Roman",serif' font-size="12" text-anchor="start" font-weight="normal" stroke="#111" stroke-width="0.2">lactate</text>
<text x="296.7" y="348.3" font-family='"Liberation Serif","Times New Roman",serif' font-size="12" text-anchor="start" font-weight="normal" stroke="#111" stroke-width="0.2">glutamine</text>
<text x="296.7" y="364.0" font-family='"Liberation Serif","Times New Roman",serif' font-size="12" text-anchor="start" font-weight="normal" stroke="#111" stroke-width="0.2">glutamine</text>
</g>
</svg>
</body></html>
